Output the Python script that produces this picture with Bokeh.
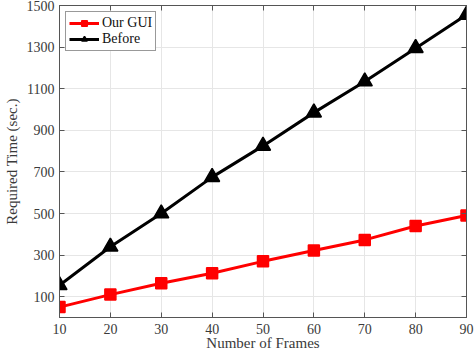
from bokeh.plotting import figure
from bokeh.models import LinearAxis, FixedTicker, Range1d, Legend, LegendItem
from bokeh.embed import file_html
from bokeh.resources import INLINE

frames = [10, 20, 30, 40, 50, 60, 70, 80, 90]
our_gui = [50, 110, 165, 213, 270, 322, 373, 440, 490]
before = [155, 340, 500, 675, 825, 985, 1135, 1295, 1455]
x_ticks = [10, 20, 30, 40, 50, 60, 70, 80, 90]
y_ticks = [100, 300, 500, 700, 900, 1100, 1300, 1500]

FONT = "Liberation Serif"
AXC = "#555555"

p = figure(width=474, height=353, output_backend="svg", toolbar_location=None,
           x_range=Range1d(10, 90), y_range=Range1d(0, 1500),
           min_border_left=2, min_border_right=8, min_border_top=5, min_border_bottom=0)
p.outline_line_color = AXC
p.outline_line_width = 1

for ax in (p.xaxis[0], p.yaxis[0]):
    ax.major_label_text_font = FONT
    ax.major_label_text_font_size = "14px"
    ax.major_label_text_color = "#3a3a3a"
    ax.axis_label_text_font = FONT
    ax.axis_label_text_font_size = "15px"
    ax.axis_label_text_font_style = "normal"
    ax.axis_label_text_color = "#3a3a3a"
    ax.axis_line_color = AXC
    ax.major_tick_line_color = AXC
    ax.major_tick_in = 5
    ax.major_tick_out = 0
    ax.minor_tick_line_color = None
p.xaxis[0].ticker = FixedTicker(ticks=x_ticks)
p.yaxis[0].ticker = FixedTicker(ticks=y_ticks)
p.xaxis[0].axis_label = "Number of Frames"
p.yaxis[0].axis_label = "Required Time (sec.)"
p.xaxis[0].axis_label_standoff = -2
p.yaxis[0].axis_label_standoff = 4
p.xaxis[0].major_label_standoff = 6
p.yaxis[0].major_label_standoff = 5

for loc, tick_list in (("right", y_ticks), ("above", x_ticks)):
    ax = LinearAxis(ticker=FixedTicker(ticks=tick_list),
                    major_label_overrides={t: "" for t in tick_list},
                    axis_line_color=AXC, major_tick_line_color=AXC, major_tick_in=5,
                    major_tick_out=0, minor_tick_line_color=None)
    ax.major_label_standoff = 0
    p.add_layout(ax, loc)

p.xgrid.ticker = FixedTicker(ticks=x_ticks)
p.ygrid.ticker = FixedTicker(ticks=y_ticks)
p.grid.grid_line_color = "#e6e6e6"
p.grid.grid_line_width = 1

l1 = p.line(frames, our_gui, line_color="red", line_width=3)
m1 = p.scatter(frames, our_gui, marker="square", size=11, fill_color="red",
               line_color="red", line_width=1.5)
l2 = p.line(frames, before, line_color="black", line_width=3)
m2 = p.scatter(frames, before, marker="triangle", size=15, fill_color="black",
               line_color="black", line_width=1.5)

legend = Legend(items=[LegendItem(label="Our GUI", renderers=[l1, m1]),
                       LegendItem(label="Before", renderers=[l2, m2])],
                location="top_left")
legend.label_text_font = FONT
legend.label_text_font_size = "14px"
legend.label_text_color = "#111111"
legend.border_line_color = "#333333"
legend.border_line_width = 1
legend.glyph_width = 30
legend.glyph_height = 14
legend.label_standoff = 3
legend.spacing = 0
legend.padding = 3
legend.margin = 6
legend.label_height = 14
p.add_layout(legend)

open("out.html", "w").write(file_html(p, INLINE))
